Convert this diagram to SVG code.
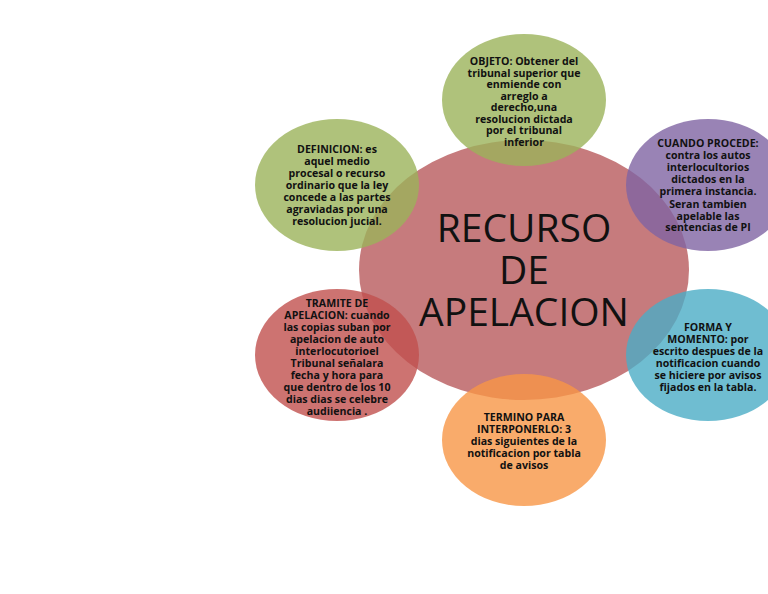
<svg xmlns="http://www.w3.org/2000/svg" width="768" height="594" viewBox="0 0 768 594">
<style>
.s{font-family:"Open Sans","Liberation Sans",sans-serif;font-weight:bold;font-size:10.6px;fill:#111;text-anchor:middle}
.c{font-family:"Open Sans","Liberation Sans",sans-serif;font-size:39px;fill:#111;text-anchor:middle}
ellipse{opacity:0.8}
</style>
<rect width="768" height="594" fill="#fff"/>
<g id="center"><ellipse cx="524" cy="270" rx="165" ry="130" fill="#b85a5c"/>
<text class="c"><tspan x="524" y="242">RECURSO</tspan><tspan x="524" y="284">DE</tspan><tspan x="524" y="326">APELACION</tspan></text></g>
<g id="objeto"><ellipse cx="524" cy="100" rx="82" ry="66" fill="#9bb35a"/>
<text class="s"><tspan x="524" y="65">OBJETO: Obtener del</tspan><tspan x="524" y="76.5">tribunal superior que</tspan><tspan x="524" y="88">enmiende con</tspan><tspan x="524" y="99.5">arreglo a</tspan><tspan x="524" y="111">derecho,una</tspan><tspan x="524" y="122.5">resolucion  dictada</tspan><tspan x="524" y="134">por el tribunal</tspan><tspan x="524" y="145.5">inferior</tspan></text></g>
<g id="definicion"><ellipse cx="337" cy="185" rx="82" ry="66" fill="#9bb35a"/>
<text class="s"><tspan x="337" y="153">DEFINICION: es</tspan><tspan x="337" y="165">aquel medio</tspan><tspan x="337" y="177">procesal o recurso</tspan><tspan x="337" y="189">ordinario que la ley</tspan><tspan x="337" y="201">concede a las partes</tspan><tspan x="337" y="213">agraviadas por una</tspan><tspan x="337" y="225">resolucion jucial.</tspan></text></g>
<g id="cuando"><ellipse cx="708" cy="185" rx="82" ry="66" fill="#8064a2"/>
<text class="s"><tspan x="708" y="147">CUANDO PROCEDE:</tspan><tspan x="708" y="159">contra los autos</tspan><tspan x="708" y="171">interlocultorios</tspan><tspan x="708" y="183">dictados en la</tspan><tspan x="708" y="195">primera instancia.</tspan><tspan x="708" y="208">Seran tambien</tspan><tspan x="708" y="219.5">apelable  las</tspan><tspan x="708" y="231">sentencias de  PI</tspan></text></g>
<g id="tramite"><ellipse cx="337" cy="355" rx="82" ry="66" fill="#c0504d"/>
<text class="s"><tspan x="337" y="307">TRAMITE DE</tspan><tspan x="337" y="319">APELACION: cuando</tspan><tspan x="337" y="331">las copias suban por</tspan><tspan x="337" y="343">apelacion de auto</tspan><tspan x="337" y="355">interlocutorioel</tspan><tspan x="337" y="367">Tribunal señalara</tspan><tspan x="337" y="379">fecha y hora para</tspan><tspan x="337" y="391">que dentro de los 10</tspan><tspan x="337" y="403">dias dias se celebre</tspan><tspan x="337" y="415">audiiencia .</tspan></text></g>
<g id="forma"><ellipse cx="708" cy="355" rx="82" ry="66" fill="#4bacc6"/>
<text class="s"><tspan x="708" y="331">FORMA Y</tspan><tspan x="708" y="343">MOMENTO: por</tspan><tspan x="708" y="355">escrito despues de la</tspan><tspan x="708" y="367">notificacion cuando</tspan><tspan x="708" y="379">se hiciere por avisos</tspan><tspan x="708" y="391">fijados en la tabla.</tspan></text></g>
<g id="termino"><ellipse cx="524" cy="440" rx="82" ry="66" fill="#f79646"/>
<text class="s"><tspan x="524" y="421">TERMINO PARA</tspan><tspan x="524" y="433">INTERPONERLO: 3</tspan><tspan x="524" y="445">dias siguientes de la</tspan><tspan x="524" y="457">notificacion por tabla</tspan><tspan x="524" y="469">de avisos</tspan></text></g>
<g id="connectors"/>
</svg>
